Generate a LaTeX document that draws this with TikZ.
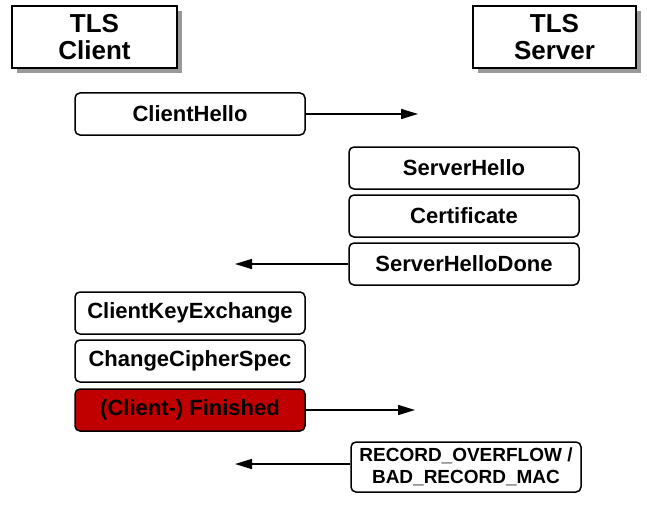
\documentclass[tikz,border=0pt]{standalone}
\usepackage{fontspec}
\setmainfont{Liberation Sans}
\usetikzlibrary{positioning}
\usetikzlibrary{arrows.meta}
\definecolor{finred}{HTML}{C00000}
\begin{document}
\begin{tikzpicture}[x=1pt, y=-1pt, font=\bfseries, ->, >={Triangle[length=17pt,width=10pt]}, line width=1.5pt]
	\tikzstyle{party}=[draw=black, rectangle, fill=white, minimum width=165pt, minimum height=62pt, align=center, font=\fontsize{26}{27}\selectfont\bfseries, inner sep=0pt, line width=1.5pt]
	\tikzstyle{msg}=[draw=black, rectangle, rounded corners=5pt, fill=white, minimum width=230pt, minimum height=42pt, align=center, font=\fontsize{22}{24}\selectfont\bfseries, inner sep=0pt, line width=1.5pt]
	\useasboundingbox (0,0) rectangle (647,508);

	% shadows of the two parties
	\fill[black!40] (17,11) rectangle (182,73);
	\fill[black!40] (478,11) rectangle (641,73);
	\node[party] (client) at (94.5,37) {TLS\\Client};
	\node[party, minimum width=163pt] (server) at (554.5,37) {TLS\\Server};

	\node[msg] (chello) at (190,114) {ClientHello};
	\node[msg] (shello) at (464,168) {ServerHello};
	\node[msg] (cert) at (464,216) {Certificate};
	\node[msg] (shdone) at (464,264) {ServerHelloDone};
	\node[msg] (ckex) at (190,313) {ClientKeyExchange};
	\node[msg] (ccs) at (190,361) {ChangeCipherSpec};
	\node[msg, fill=finred] (fin) at (190,410) {(Client-) Finished};
	\node[msg, minimum height=50pt, font=\fontsize{19}{22}\selectfont\bfseries] (alert) at (466,467) {RECORD\_OVERFLOW /\\BAD\_RECORD\_MAC};

	\coordinate (chelloend) at (418,114);
	\coordinate (shdoneend) at (235,264);
	\coordinate (finend) at (415,410);
	\coordinate (alertend) at (235,464);

	\draw (chello) -- (chelloend);
	\draw (shdone) -- (shdoneend);
	\draw (fin) -- (finend);
	\draw (alert.west |- alertend) -- (alertend);
\end{tikzpicture}
\end{document}
